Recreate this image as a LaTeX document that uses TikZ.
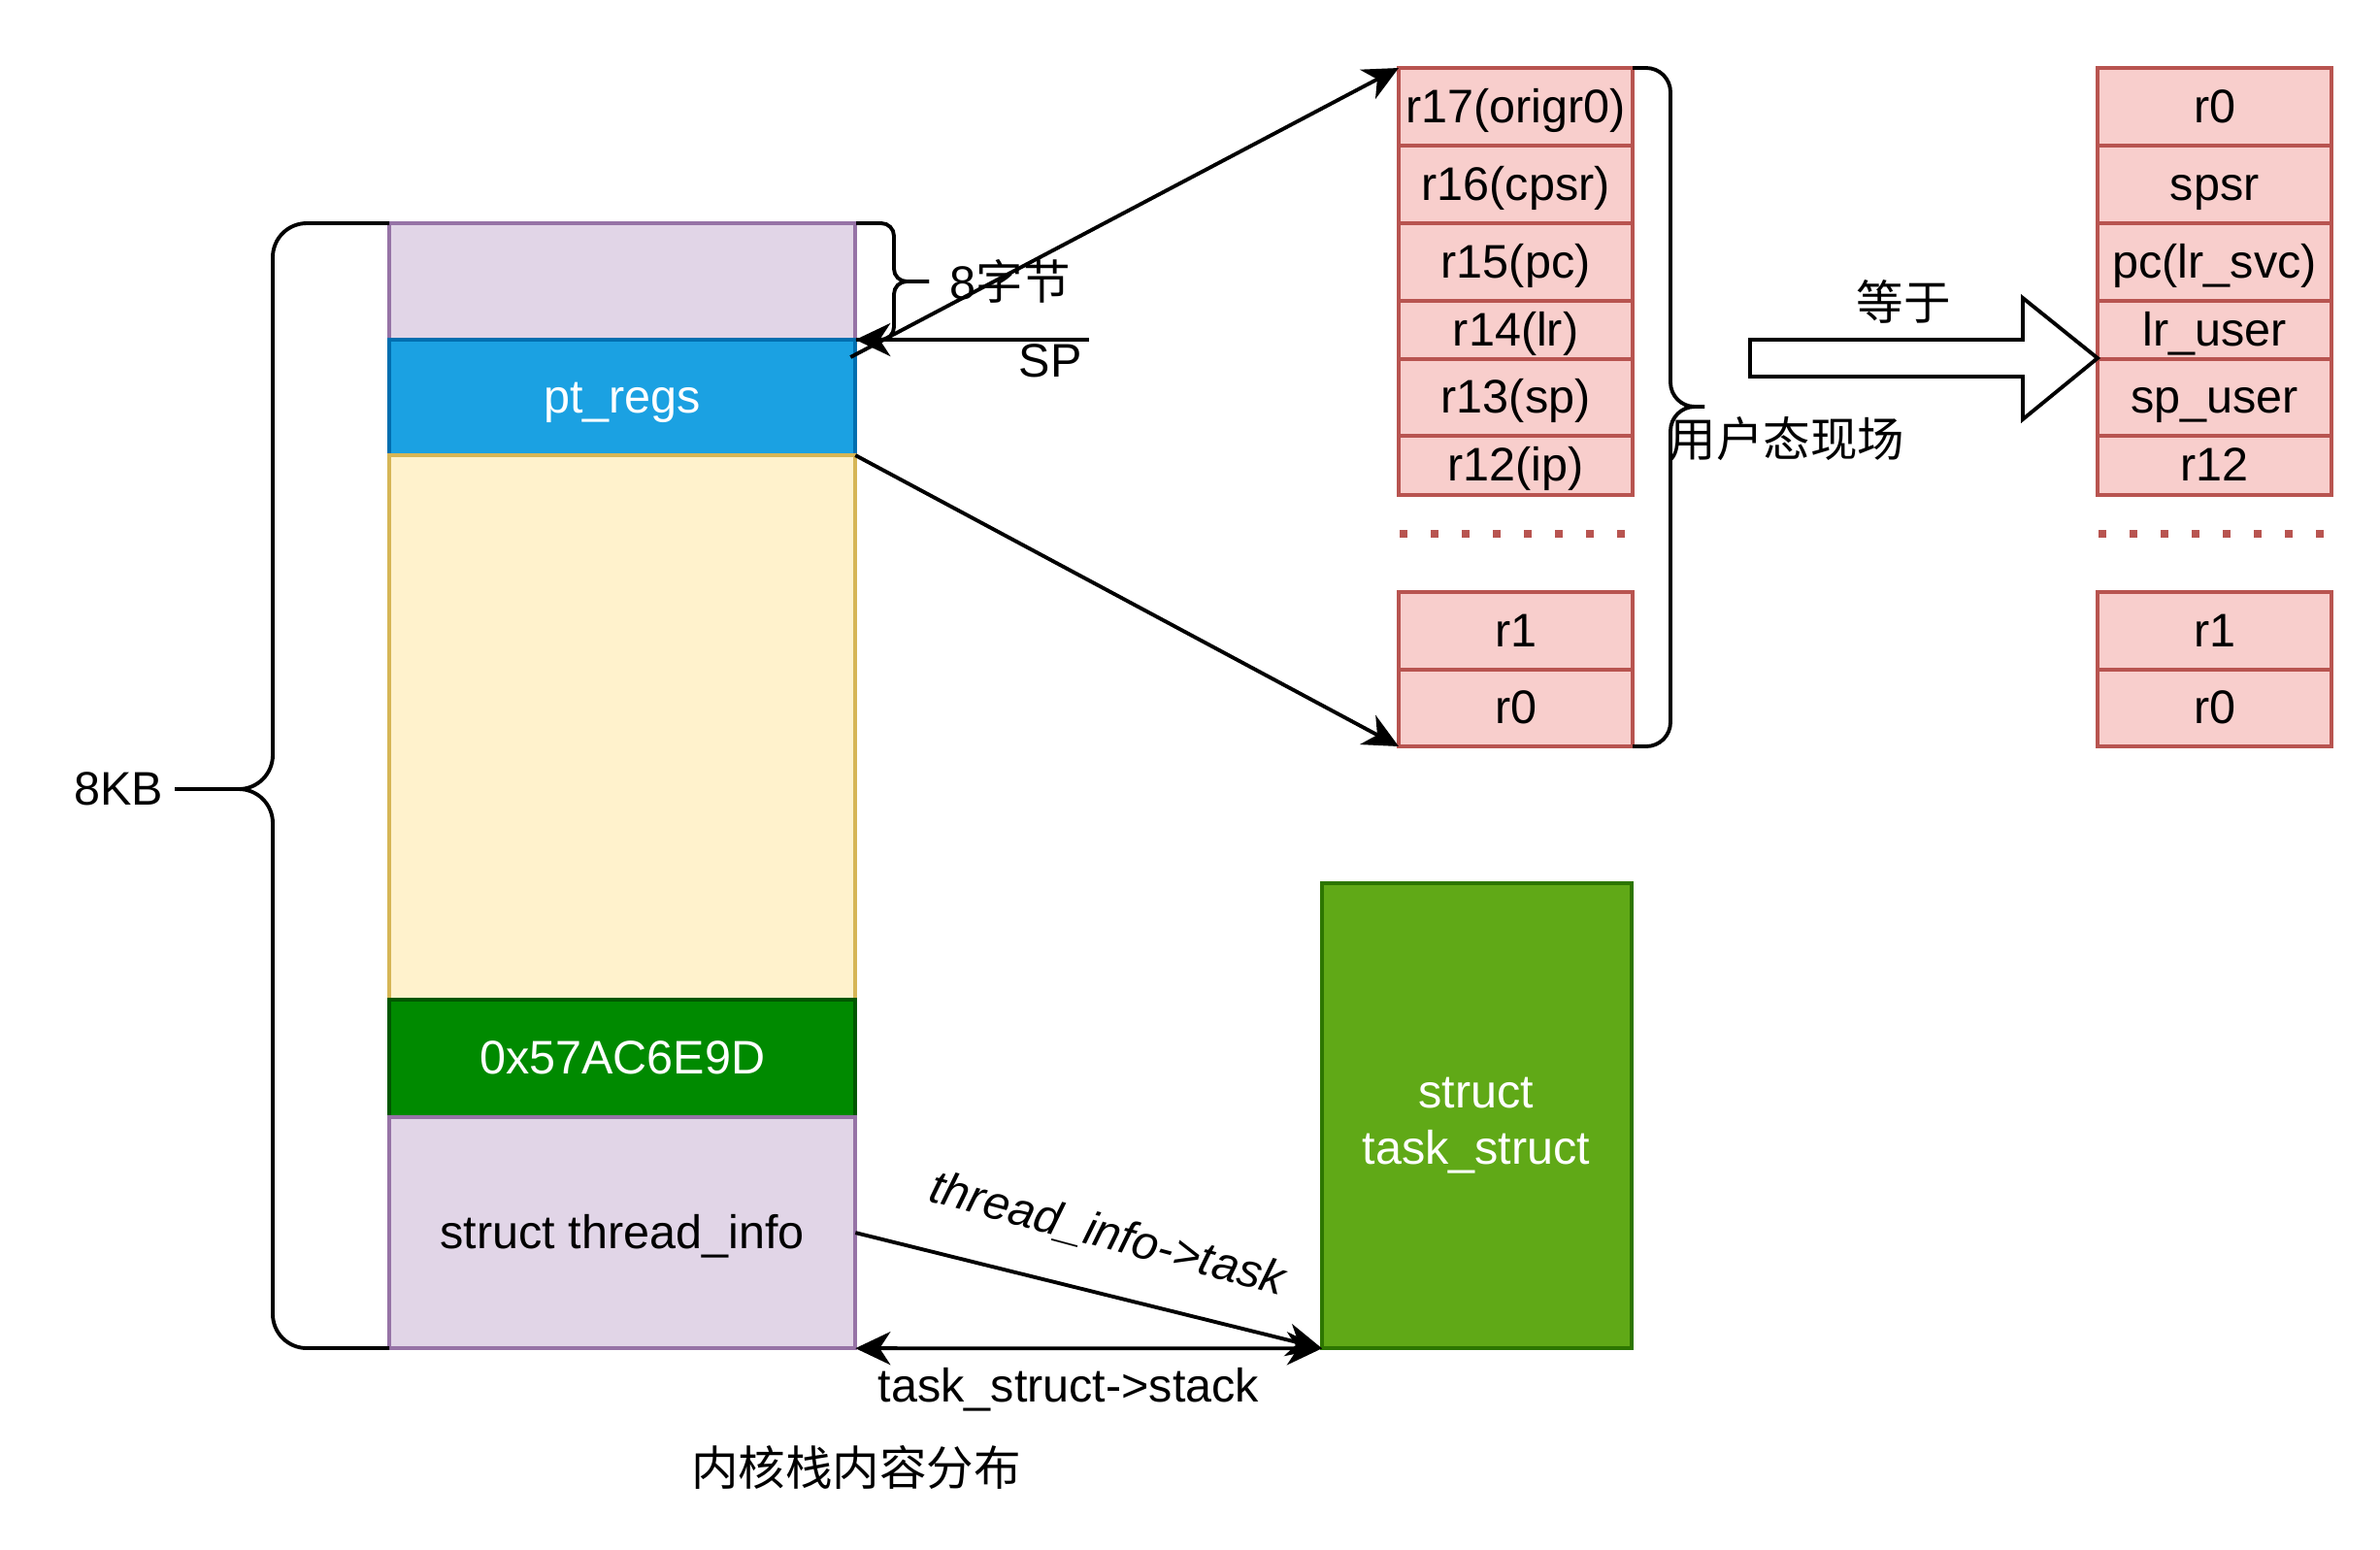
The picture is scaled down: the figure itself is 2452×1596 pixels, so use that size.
\documentclass[tikz,border=0pt]{standalone}
\usepackage{fontspec}
\setmainfont{Liberation Sans}
\newfontfamily\cjk{Noto Sans CJK SC}
\usepackage{xcolor}
\usepackage{tikz}
\usetikzlibrary{arrows.meta}
\definecolor{stackpurple}{RGB}{225,213,231}
\definecolor{stackpurpleline}{RGB}{150,115,166}
\definecolor{regsblue}{RGB}{27,161,226}
\definecolor{regsblueline}{RGB}{0,110,175}
\definecolor{freeyellow}{RGB}{255,242,204}
\definecolor{freeyellowline}{RGB}{214,182,86}
\definecolor{magicgreen}{RGB}{0,138,0}
\definecolor{magicgreenline}{RGB}{0,87,0}
\definecolor{taskgreen}{RGB}{96,169,23}
\definecolor{taskgreenline}{RGB}{45,118,0}
\definecolor{regred}{RGB}{248,206,204}
\definecolor{regredline}{RGB}{184,84,80}

\begin{document}
\begin{tikzpicture}[x=0.01cm, y=-0.01cm, line width=1.1pt,
    font=\fontsize{13.8}{16.5}\selectfont,
    block/.style={draw, anchor=north west, inner sep=0pt, outer sep=0pt, minimum width=4.8cm, text height=1.13em, text depth=0.2em},
    reg/.style={draw=regredline, fill=regred, anchor=north west, inner sep=0pt, outer sep=0pt, minimum width=2.41cm, text height=1.13em, text depth=0.2em},
    ptr/.style={-{Stealth[length=0.36cm, width=0.34cm, inset=0.11cm]}},
    dptr/.style={{Stealth[length=0.36cm, width=0.34cm, inset=0.11cm]}-{Stealth[length=0.36cm, width=0.34cm, inset=0.11cm]}}]
    \useasboundingbox (0,0) rectangle (2452,1596);

    \node[block, draw=stackpurpleline, fill=stackpurple, minimum height=1.2cm] (top) at (401,230) {};
    \node[block, draw=regsblueline, fill=regsblue, text=white, minimum height=1.19cm] (ptregs) at (401,350) {pt\_regs};
    \node[block, draw=freeyellowline, fill=freeyellow, minimum height=5.61cm] (free) at (401,469) {};
    \node[block, draw=magicgreenline, fill=magicgreen, text=white, minimum height=1.21cm] (magic) at (401,1030) {0x57AC6E9D};
    \node[block, draw=stackpurpleline, fill=stackpurple, minimum height=2.38cm] (tinfo) at (401,1151) {struct thread\_info};

    \node[block, draw=taskgreenline, fill=taskgreen, minimum width=3.19cm, minimum height=4.79cm] (task) at (1362,910) {};
    \node[text=white, align=center] (tasktext) at (1521,1160) {struct\\task\_struct};

    \foreach \y/\h/\la/\lb [count=\i] in {70/80/r17(origr0)/r0, 150/80/r16(cpsr)/spsr, 230/80/r15(pc)/pc(lr\_svc),
        310/60/r14(lr)/lr\_user, 370/79/r13(sp)/sp\_user, 449/61/r12(ip)/r12, 610/80/r1/r1, 690/79/r0/r0} {
        \node[reg, minimum height=\h*0.01cm] (kreg\i) at (1441,\y) {\la};
        \node[reg, minimum height=\h*0.01cm] (ureg\i) at (2161,\y) {\lb};
    }
    \draw[regredline, line width=0.08cm, dash pattern=on 0.08cm off 0.24cm] (1442,550) -- (1682,550);
    \draw[regredline, line width=0.08cm, dash pattern=on 0.08cm off 0.24cm] (2162,550) -- (2402,550);

    \draw[rounded corners=0.35cm] (401,230) -- (281,230) -- (281,813) -- (180,813);
    \draw[rounded corners=0.35cm] (180,813) -- (281,813) -- (281,1389) -- (401,1389);
    \draw[rounded corners=0.13cm] (882,230) -- (921,230) -- (921,290) -- (957,290);
    \draw[rounded corners=0.13cm] (957,290) -- (921,290) -- (921,350) -- (882,350);
    \draw[rounded corners=0.25cm] (1682,70) -- (1721,70) -- (1721,419) -- (1756,419);
    \draw[rounded corners=0.25cm] (1756,419) -- (1721,419) -- (1721,769) -- (1682,769);

    \draw[fill=white] (1803,350) -- (2084,350) -- (2084,307) -- (2161,369) -- (2084,432) -- (2084,388) -- (1803,388) -- cycle;

    \coordinate (spend) at (1122,350);
    \draw[ptr] (spend) -- (ptregs.north east);
    \draw[ptr] ([shift={(-5,18)}]ptregs.north east) -- (kreg1.north west);
    \draw[ptr] (ptregs.south east) -- (kreg8.south west);
    \draw[ptr] (tinfo.east) -- (task.south west);
    \draw[dptr] (tinfo.south east) -- (task.south west);

    \node (bytes) at (1041,290) {8{\cjk 字节}};
    \node (splabel) at (1082,372) {SP};
    \node (kb) at (122,813) {8KB};
    \node (eq) at (1961,311) {\cjk 等于};
    \node (scene) at (1841,452) {\cjk 用户态现场};
    \node[rotate=-15, font=\fontsize{13.8}{16.5}\selectfont\itshape] (tasklabel) at (1141,1272) {thread\_info->task};
    \node (stacklabel) at (1101,1432) {task\_struct->stack};
    \node (caption) at (882,1512) {\cjk 内核栈内容分布};
\end{tikzpicture}
\end{document}
